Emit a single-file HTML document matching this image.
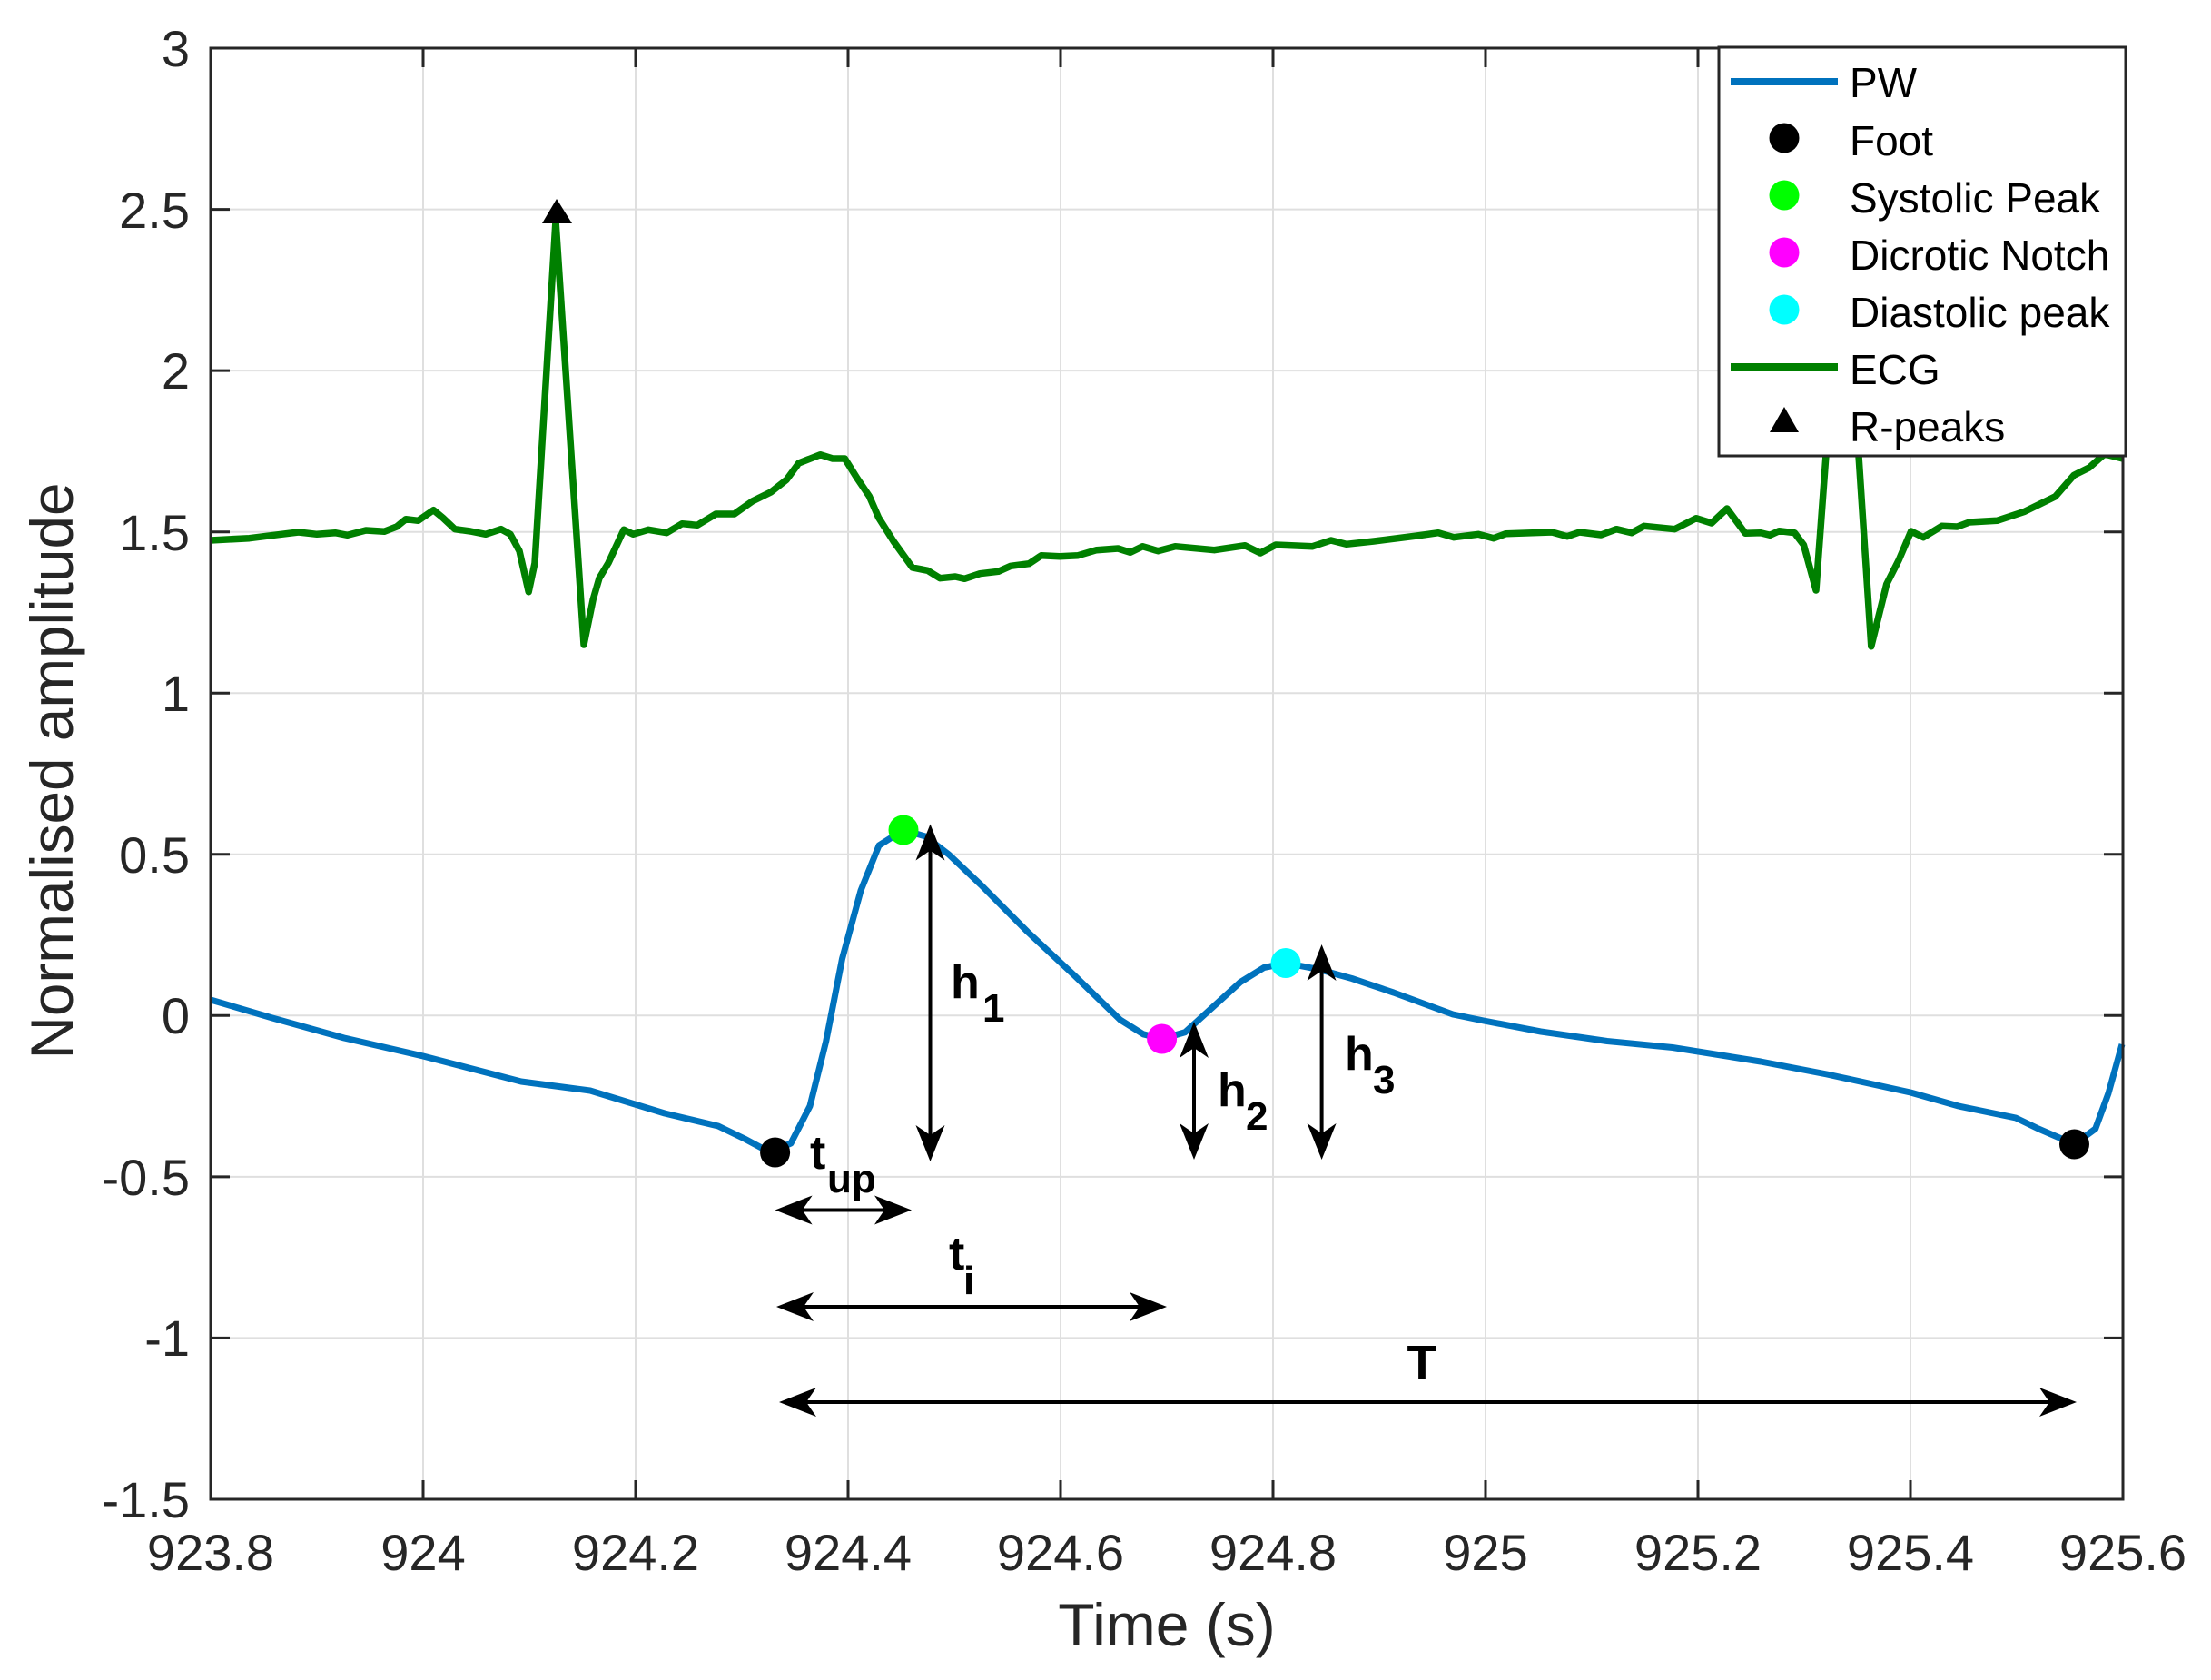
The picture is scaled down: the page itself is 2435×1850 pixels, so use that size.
<!DOCTYPE html>
<html><head><meta charset="utf-8"><style>
html,body{margin:0;padding:0;background:#fff;}
svg{display:block;}
text{font-family:"Liberation Sans",Arial,sans-serif;}
</style></head><body>
<svg width="2435" height="1850" viewBox="0 0 2435 1850" xmlns="http://www.w3.org/2000/svg">
<rect width="2435" height="1850" fill="#fff"/>
<g stroke="#dfdfdf" stroke-width="2">
<line x1="466" y1="53" x2="466" y2="1651"/>
<line x1="700" y1="53" x2="700" y2="1651"/>
<line x1="934" y1="53" x2="934" y2="1651"/>
<line x1="1168" y1="53" x2="1168" y2="1651"/>
<line x1="1402" y1="53" x2="1402" y2="1651"/>
<line x1="1636" y1="53" x2="1636" y2="1651"/>
<line x1="1870" y1="53" x2="1870" y2="1651"/>
<line x1="2104" y1="53" x2="2104" y2="1651"/>
<line x1="232" y1="230.6" x2="2338" y2="230.6"/>
<line x1="232" y1="408.1" x2="2338" y2="408.1"/>
<line x1="232" y1="585.7" x2="2338" y2="585.7"/>
<line x1="232" y1="763.2" x2="2338" y2="763.2"/>
<line x1="232" y1="940.8" x2="2338" y2="940.8"/>
<line x1="232" y1="1118.3" x2="2338" y2="1118.3"/>
<line x1="232" y1="1295.9" x2="2338" y2="1295.9"/>
<line x1="232" y1="1473.4" x2="2338" y2="1473.4"/>
</g>
<polyline fill="none" stroke="#008000" stroke-width="7.5" stroke-linejoin="round" points="
232,595 274.6,592.7 301.6,589.3 328.7,586 349,588.3 369.2,586.7 382.7,589.3 403,584 423.3,585.3 436.8,580 447,571.7 460.5,573.3 477.4,561.7 487.5,570 501,582.7 518,585 534.9,588.3 551.8,582.7 562,588.3 572,606.7 582.2,651.7 589,620 612,243 643,710 653.2,660 660,636.7 670,620 687,583.3 697.2,588.3 714,583.3 734.3,586.7 751.2,576.7 768,578.3 788.4,566 808.7,566 829,551.7 849.3,541.7 866.2,528.3 879.7,510 903.4,500.7 917,505 930.4,505 944,526.7 957.5,546.7 967.6,570 984.5,596.7 1004.8,625 1021.7,628.3 1035.2,636.7 1052.1,635 1062.3,637.3 1079.2,631.7 1099.5,629.3 1113,623.3 1133.3,620.7 1146.8,611.7 1167,612.7 1187.3,611.7 1207.6,605.7 1231.3,604 1244.8,608.3 1258.3,601.7 1275.2,606.7 1294.2,601.7 1337.3,605.7 1371.1,600.7 1388,609 1405,600 1445.5,601.7 1465.8,595 1482.7,599.3 1513,596 1560.5,590 1584,586.7 1601,591.7 1628,588.3 1645,592.7 1658.5,587.7 1709.2,586 1726,590.7 1739.6,586 1763.3,589 1780.2,582.7 1797,586.7 1810.6,579.3 1844.4,582.7 1868,570.7 1885,576 1902,560 1922.2,587.3 1939,586.7 1949.2,589.3 1959.4,584.7 1976.3,586.7 1986.4,600 2000,650 2030,243 2060.8,711.7 2077.7,643.3 2091.2,616.7 2104.7,585 2118.2,591.7 2138.5,579.3 2155.5,580 2169,575 2199.4,573.3 2229.8,563.3 2263.6,546.7 2284,523.3 2300.8,515 2317.7,500 2338,505"/>
<polygon points="613,219 597,246 630,246" fill="#000"/>
<polyline fill="none" stroke="#0072BD" stroke-width="7" stroke-linejoin="round" points="
232,1101 300,1121 379,1143 466,1163 574,1191 650,1201 732,1226 791,1240 820,1254 848,1269 871,1259 892,1218 909.7,1146.7 927.5,1055.8 948,980.7 968,931 995,914 1019,921 1045,941 1080.6,974.7 1131.6,1026 1182.6,1073.6 1233.7,1123 1259,1138.8 1279.6,1144 1305,1136.8 1335.7,1109 1366,1081.5 1391.8,1065.6 1416,1060.5 1453,1067.6 1488.8,1077.5 1534.7,1093 1600,1117 1634,1124 1697,1136 1770,1146.5 1842,1153.5 1939,1169 2012,1183 2104,1203 2157,1218 2220,1231 2245,1243 2284.5,1260 2307.7,1243 2322,1204 2337,1150"/>
<circle cx="853.6" cy="1269" r="16.5" fill="#000"/>
<circle cx="2284.5" cy="1260" r="16.5" fill="#000"/>
<circle cx="995" cy="914" r="16.5" fill="#00ff00"/>
<circle cx="1279.6" cy="1144" r="16.5" fill="#ff00ff"/>
<circle cx="1416" cy="1060.5" r="16.5" fill="#00ffff"/>
<g stroke="#000" stroke-width="4">
<line x1="1024.5" y1="930" x2="1024.5" y2="1256"/>
<line x1="1315" y1="1148" x2="1315" y2="1254"/>
<line x1="1455.6" y1="1063" x2="1455.6" y2="1254"/>
<line x1="876" y1="1332.5" x2="981" y2="1332.5"/>
<line x1="877" y1="1439" x2="1262" y2="1439"/>
<line x1="880" y1="1544" x2="2265" y2="1544"/>
</g>
<g fill="#000">
<polygon points="1024.5,907.5 1008.5,947.5 1024.5,936.5 1040.5,947.5"/>
<polygon points="1024.5,1279 1008.5,1239 1024.5,1250 1040.5,1239"/>
<polygon points="1315,1125 1299,1165 1315,1154 1331,1165"/>
<polygon points="1315,1277 1299,1237 1315,1248 1331,1237"/>
<polygon points="1455.6,1040 1439.6,1080 1455.6,1069 1471.6,1080"/>
<polygon points="1455.6,1277 1439.6,1237 1455.6,1248 1471.6,1237"/>
<polygon points="853.6,1332.5 894.6,1316.5 883.6,1332.5 894.6,1348.5"/>
<polygon points="1004,1332.5 963,1316.5 974,1332.5 963,1348.5"/>
<polygon points="855,1439 896,1423 885,1439 896,1455"/>
<polygon points="1285,1439 1244,1423 1255,1439 1244,1455"/>
<polygon points="858,1544 899,1528 888,1544 899,1560"/>
<polygon points="2287,1544 2246,1528 2257,1544 2246,1560"/>
</g>
<g font-weight="bold" fill="#000">
<text x="1047" y="1099" font-size="52">h</text><text x="1082" y="1125" font-size="44">1</text>
<text x="1341" y="1218" font-size="52">h</text><text x="1372" y="1244" font-size="44">2</text>
<text x="1481" y="1178" font-size="52">h</text><text x="1512" y="1204" font-size="44">3</text>
<text x="892" y="1287" font-size="52">t</text><text x="911" y="1313" font-size="44">up</text>
<text x="1045" y="1398" font-size="52">t</text><text x="1061" y="1425" font-size="44">i</text>
<text x="1566" y="1519" font-size="54" text-anchor="middle">T</text>
</g>
<rect x="232" y="53" width="2106" height="1598" fill="none" stroke="#262626" stroke-width="3"/>
<g stroke="#262626" stroke-width="3">
<path d="M466,53v21M700,53v21M934,53v21M1168,53v21M1402,53v21M1636,53v21M1870,53v21M2104,53v21"/>
<path d="M466,1651v-21M700,1651v-21M934,1651v-21M1168,1651v-21M1402,1651v-21M1636,1651v-21M1870,1651v-21M2104,1651v-21"/>
<path d="M232,230.6h21M232,408.1h21M232,585.7h21M232,763.2h21M232,940.8h21M232,1118.3h21M232,1295.9h21M232,1473.4h21"/>
<path d="M2338,230.6h-21M2338,408.1h-21M2338,585.7h-21M2338,763.2h-21M2338,940.8h-21M2338,1118.3h-21M2338,1295.9h-21M2338,1473.4h-21"/>
</g>
<g font-size="56" fill="#262626" text-anchor="end">
<text x="209" y="73">3</text>
<text x="209" y="251">2.5</text>
<text x="209" y="428">2</text>
<text x="209" y="606">1.5</text>
<text x="209" y="783">1</text>
<text x="209" y="961">0.5</text>
<text x="209" y="1138">0</text>
<text x="209" y="1316">-0.5</text>
<text x="209" y="1493">-1</text>
<text x="209" y="1671">-1.5</text>
</g>
<g font-size="56" fill="#262626" text-anchor="middle">
<text x="232" y="1729">923.8</text>
<text x="466" y="1729">924</text>
<text x="700" y="1729">924.2</text>
<text x="934" y="1729">924.4</text>
<text x="1168" y="1729">924.6</text>
<text x="1402" y="1729">924.8</text>
<text x="1636" y="1729">925</text>
<text x="1870" y="1729">925.2</text>
<text x="2104" y="1729">925.4</text>
<text x="2338" y="1729">925.6</text>
</g>
<text x="1285" y="1812" font-size="66" fill="#262626" text-anchor="middle">Time (s)</text>
<text transform="translate(80,849) rotate(-90)" font-size="66" fill="#262626" text-anchor="middle" textLength="635" lengthAdjust="spacingAndGlyphs">Normalised amplitude</text>
<rect x="1893" y="52" width="448" height="450" fill="#fff" stroke="#262626" stroke-width="3"/>
<line x1="1906" y1="90" x2="2024" y2="90" stroke="#0072BD" stroke-width="8"/>
<circle cx="1965" cy="152" r="16.5" fill="#000"/>
<circle cx="1965" cy="215" r="16.5" fill="#00ff00"/>
<circle cx="1965" cy="278" r="16.5" fill="#ff00ff"/>
<circle cx="1965" cy="341" r="16.5" fill="#00ffff"/>
<line x1="1906" y1="404" x2="2024" y2="404" stroke="#008000" stroke-width="8"/>
<polygon points="1965,448 1949,476 1981,476" fill="#000"/>
<g font-size="46" fill="#000">
<text x="2037" y="107">PW</text>
<text x="2037" y="171">Foot</text>
<text x="2037" y="234">Systolic Peak</text>
<text x="2037" y="297">Dicrotic Notch</text>
<text x="2037" y="360">Diastolic peak</text>
<text x="2037" y="423">ECG</text>
<text x="2037" y="486">R-peaks</text>
</g>
</svg>
</body></html>
